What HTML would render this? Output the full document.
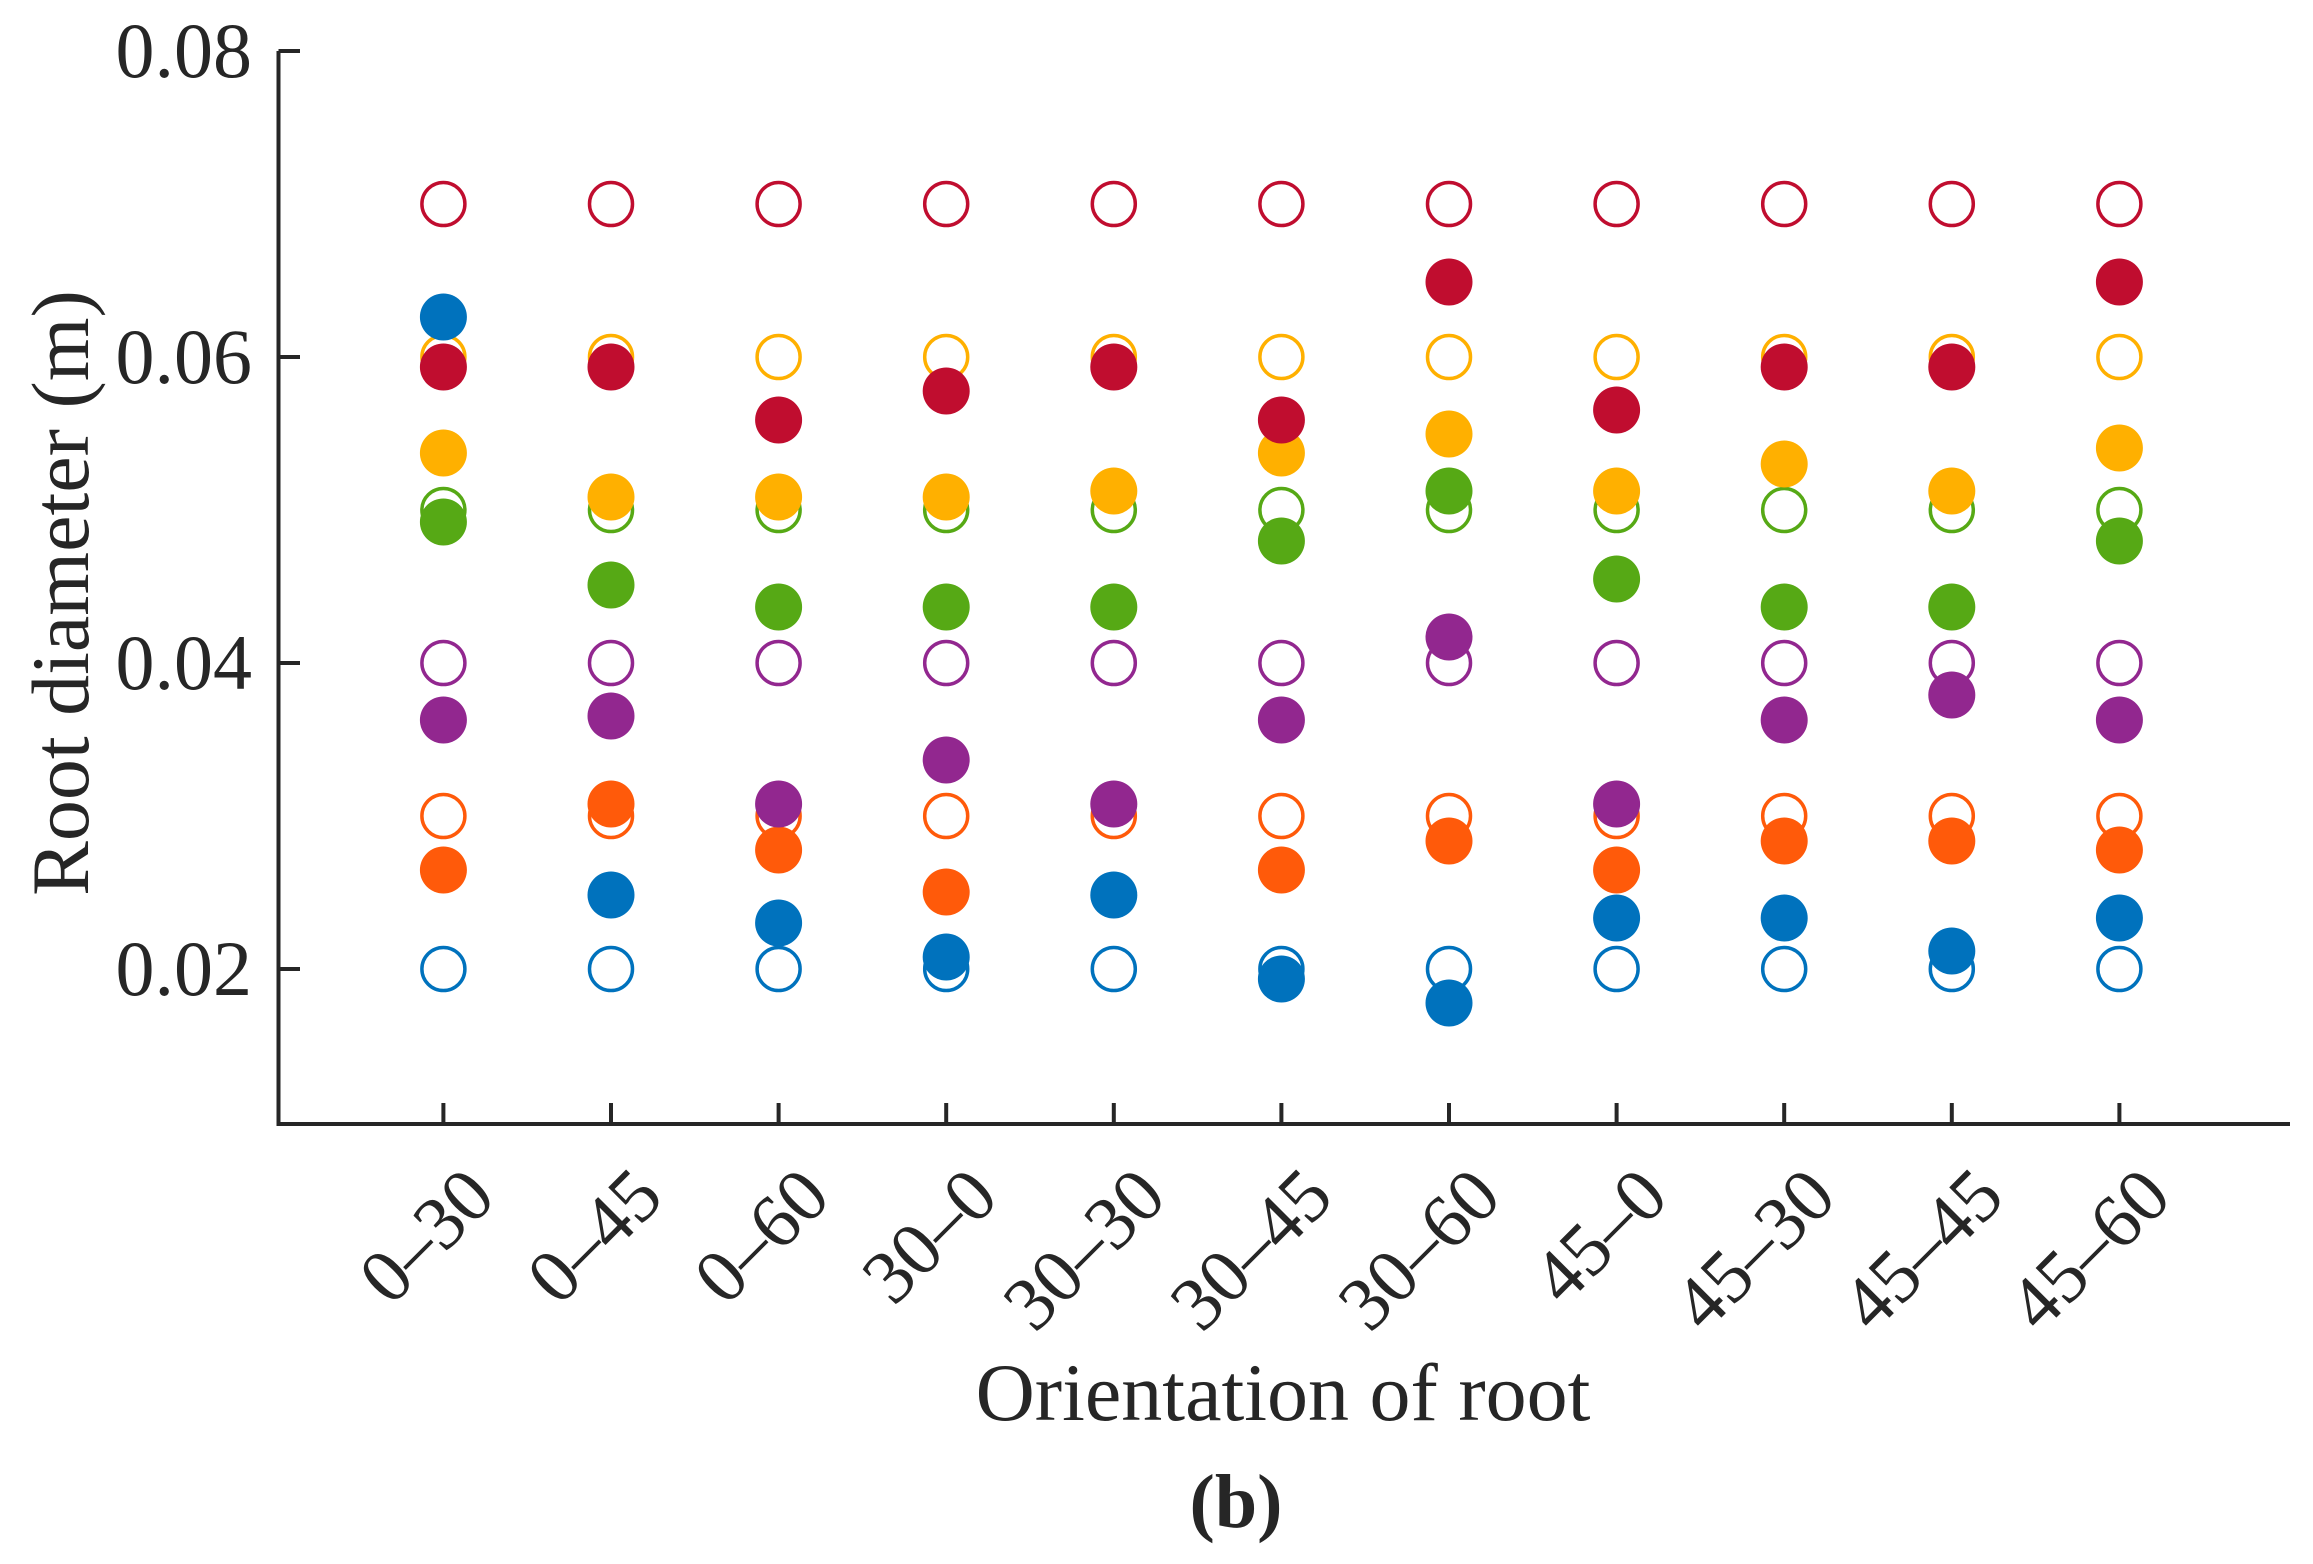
<!DOCTYPE html>
<html><head><meta charset="utf-8"><style>
html,body{margin:0;padding:0;background:#fff;}
svg{display:block;}
text{font-family:"Liberation Serif",serif;fill:#262626;}
</style></head><body>
<svg width="2313" height="1564" viewBox="0 0 2313 1564" xmlns="http://www.w3.org/2000/svg">
<g stroke="#262626" stroke-width="4" fill="none">
<path d="M278.5 51 V1124 H2290"/>
<path d="M278.5 51 H300 M278.5 357 H300 M278.5 663 H300 M278.5 969 H300"/>
<path d="M443.4 1124 V1103 M611 1124 V1103 M778.6 1124 V1103 M946.2 1124 V1103 M1113.8 1124 V1103 M1281.4 1124 V1103 M1449 1124 V1103 M1616.6 1124 V1103 M1784.2 1124 V1103 M1951.8 1124 V1103 M2119.4 1124 V1103"/>
</g>
<g font-size="78" text-anchor="end">
<text x="252" y="77">0.08</text>
<text x="252" y="383">0.06</text>
<text x="252" y="689">0.04</text>
<text x="252" y="995">0.02</text>
</g>
<text font-size="82" text-anchor="middle" transform="translate(88,593) rotate(-90)">Root diameter (m)</text>
<g font-size="76" text-anchor="end">
<text transform="translate(498,1200) rotate(-45)">0–30</text>
<text transform="translate(666,1200) rotate(-45)">0–45</text>
<text transform="translate(833,1200) rotate(-45)">0–60</text>
<text transform="translate(1001,1200) rotate(-45)">30–0</text>
<text transform="translate(1169,1200) rotate(-45)">30–30</text>
<text transform="translate(1336,1200) rotate(-45)">30–45</text>
<text transform="translate(1504,1200) rotate(-45)">30–60</text>
<text transform="translate(1671,1200) rotate(-45)">45–0</text>
<text transform="translate(1839,1200) rotate(-45)">45–30</text>
<text transform="translate(2007,1200) rotate(-45)">45–45</text>
<text transform="translate(2174,1200) rotate(-45)">45–60</text>
</g>
<text x="1283" y="1420" font-size="82" text-anchor="middle">Orientation of root</text>
<text x="1236" y="1527" font-size="76" text-anchor="middle" font-weight="bold">(b)</text>
<defs>
<g id="h">
<circle cx="0" cy="204" r="21.5" stroke="#C00D2F"/>
<circle cx="0" cy="357" r="21.5" stroke="#FFB000"/>
<circle cx="0" cy="510" r="21.5" stroke="#56A915"/>
<circle cx="0" cy="663" r="21.5" stroke="#92278F"/>
<circle cx="0" cy="816" r="21.5" stroke="#FF5A0A"/>
<circle cx="0" cy="969" r="21.5" stroke="#0072BD"/>
</g>
</defs>
<g fill="none" stroke-width="3.5">
<use href="#h" x="443.4"/><use href="#h" x="611"/><use href="#h" x="778.6"/><use href="#h" x="946.2"/><use href="#h" x="1113.8"/><use href="#h" x="1281.4"/><use href="#h" x="1449"/><use href="#h" x="1616.6"/><use href="#h" x="1784.2"/><use href="#h" x="1951.8"/><use href="#h" x="2119.4"/>
</g>
<g>
<circle cx="443.4" cy="317" r="23.5" fill="#0072BD"/>
<circle cx="443.4" cy="367" r="23.5" fill="#C00D2F"/>
<circle cx="443.4" cy="453" r="23.5" fill="#FFB000"/>
<circle cx="443.4" cy="522" r="23.5" fill="#56A915"/>
<circle cx="443.4" cy="720" r="23.5" fill="#92278F"/>
<circle cx="443.4" cy="870" r="23.5" fill="#FF5A0A"/>
<circle cx="611" cy="367" r="23.5" fill="#C00D2F"/>
<circle cx="611" cy="497" r="23.5" fill="#FFB000"/>
<circle cx="611" cy="585" r="23.5" fill="#56A915"/>
<circle cx="611" cy="716" r="23.5" fill="#92278F"/>
<circle cx="611" cy="804" r="23.5" fill="#FF5A0A"/>
<circle cx="611" cy="895" r="23.5" fill="#0072BD"/>
<circle cx="778.6" cy="420" r="23.5" fill="#C00D2F"/>
<circle cx="778.6" cy="497" r="23.5" fill="#FFB000"/>
<circle cx="778.6" cy="607" r="23.5" fill="#56A915"/>
<circle cx="778.6" cy="850" r="23.5" fill="#FF5A0A"/>
<circle cx="778.6" cy="804" r="23.5" fill="#92278F"/>
<circle cx="778.6" cy="923" r="23.5" fill="#0072BD"/>
<circle cx="946.2" cy="391" r="23.5" fill="#C00D2F"/>
<circle cx="946.2" cy="497" r="23.5" fill="#FFB000"/>
<circle cx="946.2" cy="607" r="23.5" fill="#56A915"/>
<circle cx="946.2" cy="760" r="23.5" fill="#92278F"/>
<circle cx="946.2" cy="892" r="23.5" fill="#FF5A0A"/>
<circle cx="946.2" cy="957" r="23.5" fill="#0072BD"/>
<circle cx="1113.8" cy="367" r="23.5" fill="#C00D2F"/>
<circle cx="1113.8" cy="491" r="23.5" fill="#FFB000"/>
<circle cx="1113.8" cy="607" r="23.5" fill="#56A915"/>
<circle cx="1113.8" cy="804" r="23.5" fill="#92278F"/>
<circle cx="1113.8" cy="895" r="23.5" fill="#0072BD"/>
<circle cx="1281.4" cy="453" r="23.5" fill="#FFB000"/>
<circle cx="1281.4" cy="420" r="23.5" fill="#C00D2F"/>
<circle cx="1281.4" cy="541" r="23.5" fill="#56A915"/>
<circle cx="1281.4" cy="720" r="23.5" fill="#92278F"/>
<circle cx="1281.4" cy="870" r="23.5" fill="#FF5A0A"/>
<circle cx="1281.4" cy="979" r="23.5" fill="#0072BD"/>
<circle cx="1449" cy="282" r="23.5" fill="#C00D2F"/>
<circle cx="1449" cy="434" r="23.5" fill="#FFB000"/>
<circle cx="1449" cy="491" r="23.5" fill="#56A915"/>
<circle cx="1449" cy="637" r="23.5" fill="#92278F"/>
<circle cx="1449" cy="841" r="23.5" fill="#FF5A0A"/>
<circle cx="1449" cy="1003" r="23.5" fill="#0072BD"/>
<circle cx="1616.6" cy="410" r="23.5" fill="#C00D2F"/>
<circle cx="1616.6" cy="491" r="23.5" fill="#FFB000"/>
<circle cx="1616.6" cy="579" r="23.5" fill="#56A915"/>
<circle cx="1616.6" cy="870" r="23.5" fill="#FF5A0A"/>
<circle cx="1616.6" cy="804" r="23.5" fill="#92278F"/>
<circle cx="1616.6" cy="918" r="23.5" fill="#0072BD"/>
<circle cx="1784.2" cy="367" r="23.5" fill="#C00D2F"/>
<circle cx="1784.2" cy="464" r="23.5" fill="#FFB000"/>
<circle cx="1784.2" cy="607" r="23.5" fill="#56A915"/>
<circle cx="1784.2" cy="720" r="23.5" fill="#92278F"/>
<circle cx="1784.2" cy="841" r="23.5" fill="#FF5A0A"/>
<circle cx="1784.2" cy="918" r="23.5" fill="#0072BD"/>
<circle cx="1951.8" cy="367" r="23.5" fill="#C00D2F"/>
<circle cx="1951.8" cy="491" r="23.5" fill="#FFB000"/>
<circle cx="1951.8" cy="607" r="23.5" fill="#56A915"/>
<circle cx="1951.8" cy="695" r="23.5" fill="#92278F"/>
<circle cx="1951.8" cy="841" r="23.5" fill="#FF5A0A"/>
<circle cx="1951.8" cy="951" r="23.5" fill="#0072BD"/>
<circle cx="2119.4" cy="282" r="23.5" fill="#C00D2F"/>
<circle cx="2119.4" cy="448" r="23.5" fill="#FFB000"/>
<circle cx="2119.4" cy="541" r="23.5" fill="#56A915"/>
<circle cx="2119.4" cy="720" r="23.5" fill="#92278F"/>
<circle cx="2119.4" cy="850" r="23.5" fill="#FF5A0A"/>
<circle cx="2119.4" cy="918" r="23.5" fill="#0072BD"/>
</g>
</svg>
</body></html>
